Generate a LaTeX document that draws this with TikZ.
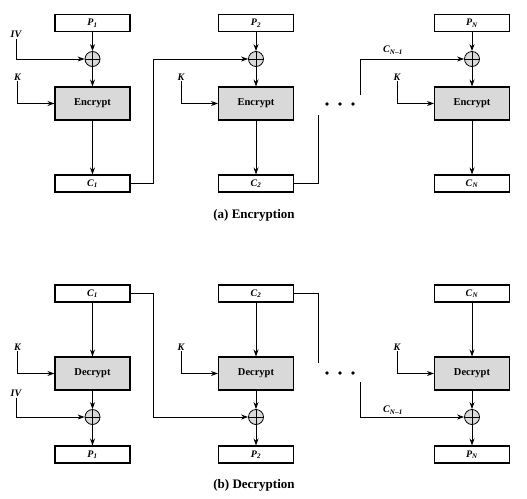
\documentclass[tikz,border=0pt]{standalone}
\usepackage{fontspec}
\setmainfont{Liberation Serif}
\usetikzlibrary{arrows.meta,positioning}

\newcommand{\vsub}[2]{\textbf{\textit{#1}\textsubscript{\textit{#2}}}}

\tikzset{
  blk/.style={draw, line width=1.1pt, minimum width=75pt, minimum height=17pt, inner sep=0pt, font=\fontsize{10}{11}\selectfont},
  ciph/.style={draw, line width=1.1pt, fill=gray!30, minimum width=75pt, minimum height=33pt, inner sep=0pt, font=\fontsize{10.5}{12}\selectfont\bfseries},
  xor/.style={draw, line width=0.8pt, circle, fill=gray!30, minimum size=15pt, inner sep=0pt,
    path picture={\draw[line width=0.8pt] (path picture bounding box.north)--(path picture bounding box.south)
      (path picture bounding box.west)--(path picture bounding box.east);}},
  lbl/.style={inner sep=1pt, font=\fontsize{10}{11}\selectfont\bfseries\itshape},
  flow/.style={line width=0.8pt, -{Stealth[length=7pt,width=5pt]}},
  link/.style={line width=0.8pt},
}

\begin{document}
\begin{tikzpicture}[x=1pt,y=-1pt]
    \useasboundingbox (0,0) rectangle (527,498);

    % (a) encryption
    \foreach \i/\x/\s in {1/92.5/1, 2/256/2, 3/472/N} {
        \node[blk] (p\i) at (\x,23) {\vsub{P}{\s}};
        \node[xor] (x\i) at (\x,59) {};
        \node[ciph] (e\i) at (\x,103.5) {Encrypt};
        \node[blk] (c\i) at (\x,183.5) {\vsub{C}{\s}};
        \node[lbl] (k\i) at (\x-75,77) {K};
        \draw[flow] (p\i) -- (x\i);
        \draw[flow] (x\i) -- (e\i);
        \draw[flow] (e\i) -- (c\i);
        \draw[flow] (k\i.south) |- (e\i.west);
    }
    \node[lbl] (iv) at (16,34) {IV};
    \draw[flow] (iv.south) |- (x1.west);
    \draw[flow] (c1.east) -- ++(23,0) |- (x2.west);
    \coordinate (a1) at (318,115);
    \coordinate (a2) at (360,95);
    \draw[link] (c2.east) -| (a1);
    \draw[flow] (a2) |- (x3.west);
    \node[lbl] (cn) at (393,50) {\vsub{C}{N}\textsubscript{\textbf{–1}}};
    \foreach \d in {327,340,353} \fill (\d,104) circle (1.8);
    \node[font=\fontsize{13}{15}\selectfont\bfseries] (capa) at (254,215) {(a) Encryption};

    % (b) decryption
    \foreach \i/\x/\s in {1/92.5/1, 2/256/2, 3/472/N} {
        \node[blk] (cc\i) at (\x,293.5) {\vsub{C}{\s}};
        \node[ciph] (d\i) at (\x,373.5) {Decrypt};
        \node[xor] (y\i) at (\x,417) {};
        \node[blk] (pp\i) at (\x,454.5) {\vsub{P}{\s}};
        \node[lbl] (kk\i) at (\x-75,347) {K};
        \draw[flow] (cc\i) -- (d\i);
        \draw[flow] (d\i) -- (y\i);
        \draw[flow] (y\i) -- (pp\i);
        \draw[flow] (kk\i.south) |- (d\i.west);
    }
    \node[lbl] (iv2) at (16,393) {IV};
    \draw[flow] (iv2.south) |- (y1.west);
    \draw[flow] (cc1.east) -- ++(23,0) |- (y2.west);
    \coordinate (b1) at (318,363);
    \coordinate (b2) at (360,382);
    \draw[link] (cc2.east) -| (b1);
    \draw[flow] (b2) |- (y3.west);
    \node[lbl] (cn2) at (393,410) {\vsub{C}{N}\textsubscript{\textbf{–1}}};
    \foreach \d in {327,340,353} \fill (\d,373) circle (1.8);
    \node[font=\fontsize{13}{15}\selectfont\bfseries] (capb) at (254,485) {(b) Decryption};
\end{tikzpicture}
\end{document}
